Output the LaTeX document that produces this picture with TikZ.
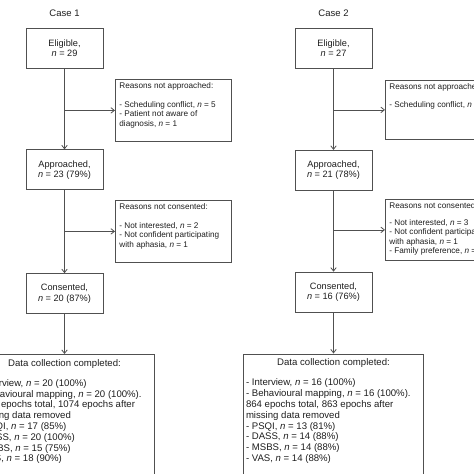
\documentclass[tikz,border=0pt]{standalone}
\usepackage{fontspec}
\setmainfont{Liberation Sans}
\usetikzlibrary{arrows.meta,positioning}
\definecolor{edge}{RGB}{80,80,80}
\definecolor{txt}{RGB}{30,30,30}
\tikzset{
  stage/.style={draw=edge,line width=0.8pt,minimum width=77pt,minimum height=40pt,inner sep=2pt,
    align=center,text=txt,font=\fontsize{9.2}{10.2}\selectfont},
  why/.style={draw=edge,line width=0.8pt,anchor=north west,inner xsep=4pt,inner ysep=3pt,
    text=txt,font=\fontsize{8.2}{9.5}\selectfont},
  done/.style={draw=edge,line width=0.8pt,inner xsep=2.5pt,inner ysep=5pt,
    text=txt,font=\fontsize{9.6}{10.8}\selectfont},
  head/.style={inner sep=0pt,text=txt,font=\fontsize{9.5}{11}\selectfont},
  arr/.style={-{Straight Barb[length=3.5pt,width=5.5pt]},line width=0.8pt,edge},
}
\newcommand{\nn}{\textit{n}}
\newcommand{\whybox}[2]{\parbox[t][#1][t]{108pt}{\raggedright #2}}
\newcommand{\donebox}[1]{\parbox[t][111pt][t]{175pt}{#1}}

\begin{document}
\begin{tikzpicture}[x=1pt,y=-1pt]
  \useasboundingbox (0,0) rectangle (474,474);
  \clip (0,0) rectangle (474,474);
  % case 1
  \node[stage] (elig1) at (64.5,48) {Eligible,\\ \nn{} = 29};
  \node[head,above=11pt of elig1] (case1) {Case 1};
  \node[stage,below=81pt of elig1] (appr1) {Approached,\\ \nn{} = 23 (79\%)};
  \node[stage,below=83pt of appr1] (cons1) {Consented,\\ \nn{} = 20 (87\%)};
  \node[done,below=40pt of cons1] (data1) {\donebox{\centering Data collection completed:\par\vspace{9.2pt}
    \raggedright - Interview, \nn{} = 20 (100\%)\\
    - Behavioural mapping, \nn{} = 20 (100\%).\\
    1080 epochs total, 1074 epochs after\\
    missing data removed\\
    - PSQI, \nn{} = 17 (85\%)\\
    - DASS, \nn{} = 20 (100\%)\\
    - MSBS, \nn{} = 15 (75\%)\\
    - VAS, \nn{} = 18 (90\%)}};
  \node[why] (skip1) at (115,79) {\whybox{56pt}{Reasons not approached:\\[9.5pt]
    - Scheduling conflict, \nn{} = 5\\
    - Patient not aware of\\
    diagnosis, \nn{} = 1}};
  \node[why] (refuse1) at (115,200) {\whybox{56pt}{Reasons not consented:\\[9.5pt]
    - Not interested, \nn{} = 2\\
    - Not confident participating\\
    with aphasia, \nn{} = 1}};
  \draw[arr] (elig1) -- (appr1);
  \draw[arr] (appr1) -- (cons1);
  \draw[arr] (cons1) -- (data1);
  \draw[arr] (elig1 |- skip1.west) -- (skip1.west);
  \draw[arr] (appr1 |- refuse1.west) -- (refuse1.west);
  % case 2
  \node[stage] (elig2) at (333.5,48.5) {Eligible,\\ \nn{} = 27};
  \node[head,above=11pt of elig2] (case2) {Case 2};
  \node[stage,below=81pt of elig2] (appr2) {Approached,\\ \nn{} = 21 (78\%)};
  \node[stage,below=81pt of appr2] (cons2) {Consented,\\ \nn{} = 16 (76\%)};
  \node[done,below=41pt of cons2] (data2) {\donebox{\centering Data collection completed:\par\vspace{9.2pt}
    \raggedright - Interview, \nn{} = 16 (100\%)\\
    - Behavioural mapping, \nn{} = 16 (100\%).\\
    864 epochs total, 863 epochs after\\
    missing data removed\\
    - PSQI, \nn{} = 13 (81\%)\\
    - DASS, \nn{} = 14 (88\%)\\
    - MSBS, \nn{} = 14 (88\%)\\
    - VAS, \nn{} = 14 (88\%)}};
  \node[why] (skip2) at (385,80) {\whybox{53pt}{Reasons not approached:\\[8.5pt]
    - Scheduling conflict, \nn{} = 6}};
  \node[why] (refuse2) at (385,199) {\whybox{55pt}{Reasons not consented:\\[7.5pt]
    - Not interested, \nn{} = 3\\
    - Not confident participating\\
    with aphasia, \nn{} = 1\\
    - Family preference, \nn{} = 1}};
  \draw[arr] (elig2) -- (appr2);
  \draw[arr] (appr2) -- (cons2);
  \draw[arr] (cons2) -- (data2);
  \draw[arr] (elig2 |- skip2.west) -- (skip2.west);
  \draw[arr] (appr2 |- refuse2.west) -- (refuse2.west);
\end{tikzpicture}
\end{document}
